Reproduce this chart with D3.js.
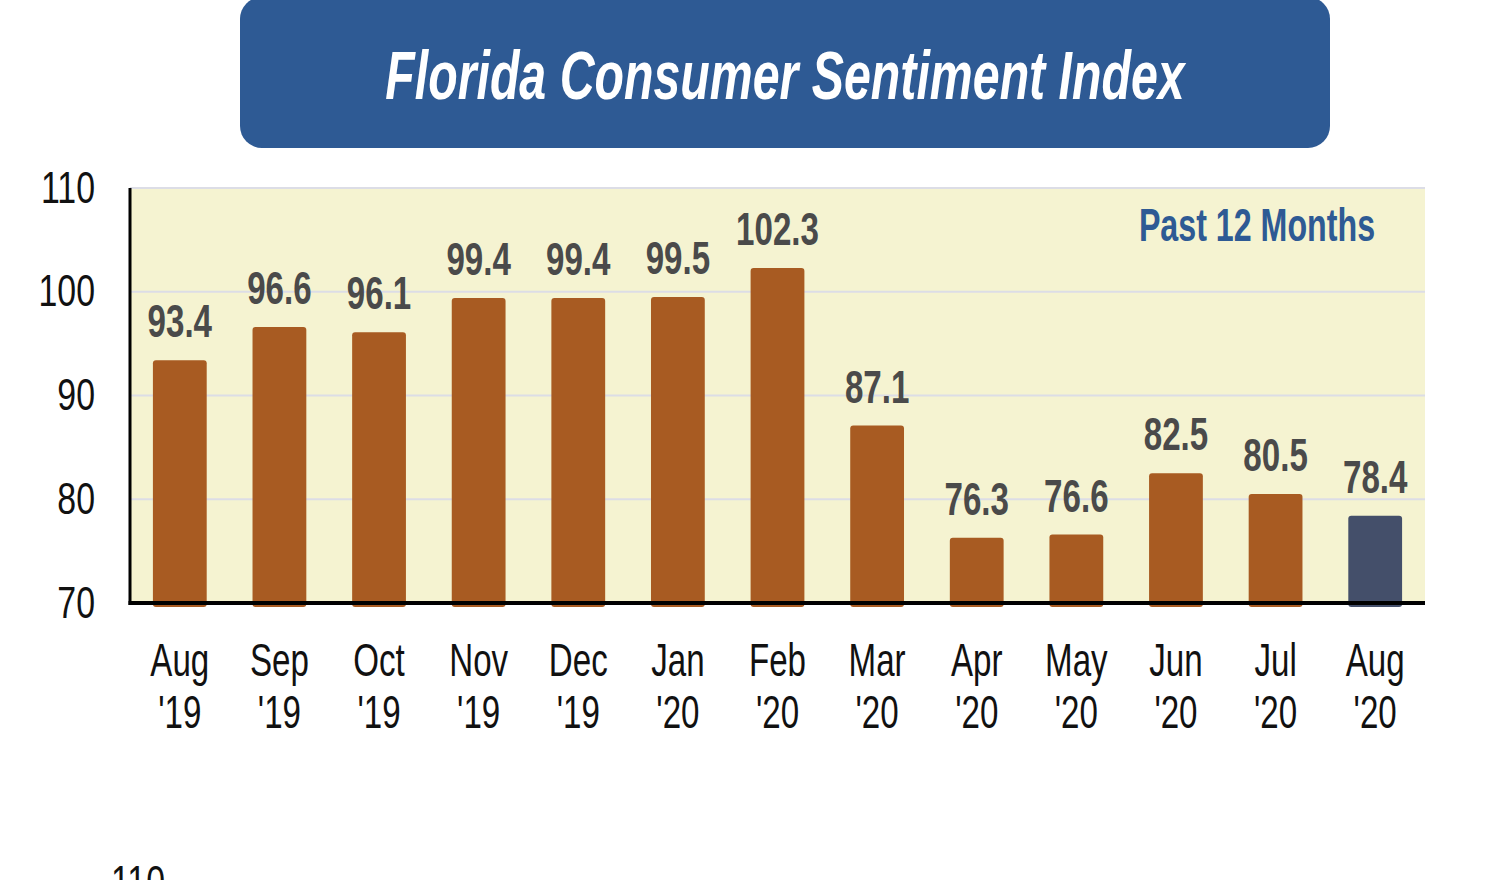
<!DOCTYPE html>
<html>
<head>
<meta charset="utf-8">
<script src="https://cdnjs.cloudflare.com/ajax/libs/d3/7.8.5/d3.min.js"></script>
<style>
  body { margin: 0; background: #fff; }
  svg { display: block; }
  text { font-family: "Liberation Sans", Arial, sans-serif; }
</style>
</head>
<body>
<svg id="chart" width="1500" height="880"></svg>
<script>
// months on the x axis, two lines each
var months = ["Aug", "Sep", "Oct", "Nov", "Dec", "Jan", "Feb", "Mar", "Apr", "May", "Jun", "Jul", "Aug"];
var years = ["'19", "'19", "'19", "'19", "'19", "'20", "'20", "'20", "'20", "'20", "'20", "'20", "'20"];
var sentiment = [93.4, 96.6, 96.1, 99.4, 99.4, 99.5, 102.3, 87.1, 76.3, 76.6, 82.5, 80.5, 78.4];
var yTicks = [70, 80, 90, 100, 110];

var svg = d3.select("#chart");
var margin = { top: 188, right: 75, bottom: 277, left: 130 };
var width = 1500 - margin.left - margin.right;
var height = 880 - margin.top - margin.bottom;

// squeeze text horizontally, the original uses a condensed face
function condense(sel, k) {
  sel.each(function () {
    var w = this.getComputedTextLength();
    d3.select(this).attr("textLength", w * k).attr("lengthAdjust", "spacingAndGlyphs");
  });
}

// title banner
svg.append("rect")
  .attr("x", 240).attr("y", -3)
  .attr("width", 1090).attr("height", 151)
  .attr("rx", 22)
  .attr("fill", "#2E5A94");
svg.append("text")
  .attr("x", 785).attr("y", 99)
  .attr("text-anchor", "middle")
  .attr("fill", "#fff")
  .style("font-size", "68px")
  .style("font-weight", "bold")
  .style("font-style", "italic")
  .text("Florida Consumer Sentiment Index")
  .call(condense, 0.71);

var g = svg.append("g").attr("transform", "translate(" + margin.left + "," + margin.top + ")");

var x = d3.scaleBand()
  .domain(d3.range(sentiment.length))
  .range([0, width])
  .paddingInner(0.46)
  .paddingOuter(0.23);

var y = d3.scaleLinear()
  .domain([70, 110])
  .range([height, 0]);

// plot background
g.append("rect")
  .attr("width", width).attr("height", height)
  .attr("fill", "#F5F3D1");

// gridlines
g.selectAll(".grid")
  .data(yTicks.slice(1))
  .enter().append("line")
  .attr("x1", 0).attr("x2", width)
  .attr("y1", d => y(d)).attr("y2", d => y(d))
  .attr("stroke", "#DCDDE6")
  .attr("stroke-width", 2);

// bars
g.selectAll(".bar")
  .data(sentiment)
  .enter().append("rect")
  .attr("x", (d, i) => x(i))
  .attr("y", d => y(d))
  .attr("width", x.bandwidth())
  .attr("height", d => height - y(d) + 4)
  .attr("rx", 3)
  .attr("fill", (d, i) => i === sentiment.length - 1 ? "#444F6A" : "#A85B22");

// value labels
g.selectAll(".val")
  .data(sentiment)
  .enter().append("text")
  .attr("x", (d, i) => x(i) + x.bandwidth() / 2)
  .attr("y", d => y(d) - 23)
  .attr("text-anchor", "middle")
  .attr("fill", "#4A4A4A")
  .style("font-size", "46px")
  .style("font-weight", "bold")
  .text(d => d.toFixed(1))
  .call(condense, 0.72);

// y axis labels
var yAxis = g.append("g")
  .call(d3.axisLeft(y).tickValues(yTicks).tickSize(0).tickPadding(35));
yAxis.select(".domain").remove();
yAxis.selectAll("text")
  .attr("fill", "#111")
  .style("font-size", "44px")
  .call(condense, 0.77);

// x axis labels
var xAxis = g.append("g")
  .attr("transform", "translate(0," + height + ")")
  .call(d3.axisBottom(x).tickSize(0).tickFormat(""));
xAxis.select(".domain").remove();
xAxis.selectAll(".tick").each(function (d) {
  var t = d3.select(this).append("text")
    .attr("text-anchor", "middle")
    .attr("fill", "#111")
    .style("font-size", "46px");
  t.append("tspan").attr("x", 0).attr("y", 73).text(months[d]);
  t.append("tspan").attr("x", 0).attr("y", 125).text(years[d]);
  t.selectAll("tspan").call(condense, 0.72);
});

// axis lines
g.append("line")
  .attr("x1", 0).attr("x2", 0)
  .attr("y1", 0).attr("y2", height + 2)
  .attr("stroke", "#000").attr("stroke-width", 3);
g.append("line")
  .attr("x1", -1.5).attr("x2", width)
  .attr("y1", height).attr("y2", height)
  .attr("stroke", "#000").attr("stroke-width", 4);

// legend note
g.append("text")
  .attr("x", 1127).attr("y", 53)
  .attr("text-anchor", "middle")
  .attr("fill", "#2E5A94")
  .style("font-size", "46px")
  .style("font-weight", "bold")
  .text("Past 12 Months")
  .call(condense, 0.70);

// top of the next chart peeking in at the bottom
svg.append("text")
  .attr("x", 165).attr("y", 897)
  .attr("text-anchor", "end")
  .attr("fill", "#111")
  .style("font-size", "44px")
  .text("110")
  .call(condense, 0.77);
</script>
</body>
</html>
